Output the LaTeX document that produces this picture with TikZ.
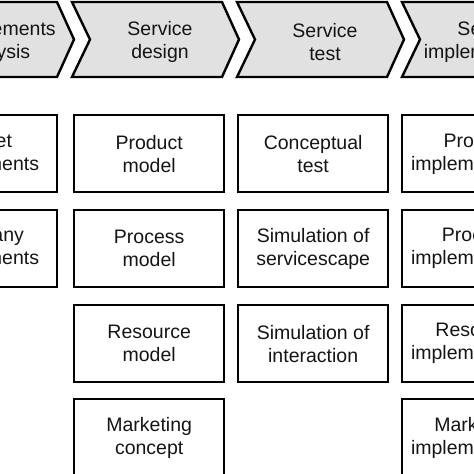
\documentclass[tikz,border=0pt]{standalone}
\usepackage{fontspec}
\setmainfont{Liberation Sans}
\definecolor{chevfill}{RGB}{225,225,225}
\definecolor{txt}{RGB}{20,20,20}
\begin{document}
\begin{tikzpicture}[x=1pt,y=-1pt,
  chev/.style={draw=black,fill=chevfill,line width=2.4pt,line join=miter},
  phase/.style={align=center,text=txt,font=\fontsize{19.5}{23}\selectfont,inner sep=0pt},
  actbox/.style={draw=black,line width=2.3pt,minimum width=150pt,minimum height=77pt,
    align=center,text=txt,font=\fontsize{19.5}{23}\selectfont,inner sep=0pt,anchor=north west}]
\useasboundingbox (0,0) rectangle (474,474);
\clip (0,0) rectangle (474,474);
% chevrons
\foreach \L in {-93,72,237,402}{
  \draw[chev] (\L,2) -- ++(150,0) -- ++(17,37.5) -- ++(-17,37.5) -- ++(-150,0) -- ++(18,-37.5) -- cycle;
}
\node[phase] (p1) at (-5,42) {Requirements\\analysis};
\node[phase] (p2) at (160,42) {Service\\design};
\node[phase] (p3) at (325,42) {Service\\test};
\node[phase] (p4) at (490,42) {Service\\implementation};
% column 1
\node[actbox] (a1) at (-94,114) {Market\\requirements};
\node[actbox] (a2) at (-94,209) {Company\\requirements};
% column 2
\node[actbox] (b1) at (73,114) {Product\\model};
\node[actbox] (b2) at (73,209) {Process\\model};
\node[actbox] (b3) at (73,304) {Resource\\model};
\node[actbox] (b4) at (73,398) {Marketing\\concept};
% column 3
\node[actbox] (c1) at (237,114) {Conceptual\\test};
\node[actbox] (c2) at (237,209) {Simulation of\\servicescape};
\node[actbox] (c3) at (237,304) {Simulation of\\interaction};
% column 4
\node[actbox] (d1) at (401,114) {Product\\implementation};
\node[actbox] (d2) at (401,209) {Process\\implementation};
\node[actbox] (d3) at (401,304) {Resource\\implementation};
\node[actbox] (d4) at (401,398) {Marketing\\implementation};
\end{tikzpicture}
\end{document}
